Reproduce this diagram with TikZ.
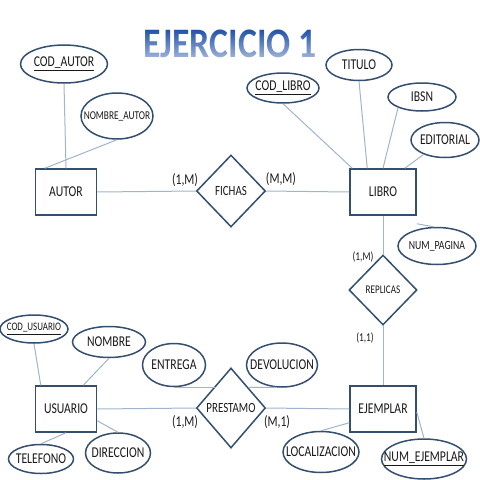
\documentclass[tikz,border=0pt]{standalone}
\usepackage{fontspec}
\setmainfont{Carlito}[FakeStretch=0.78]
\newfontfamily\titlefont{Carlito}[FakeStretch=0.85]
\usetikzlibrary{shapes.geometric,fadings}
\definecolor{navy}{RGB}{52,78,112}
\definecolor{conn}{RGB}{160,180,204}
\definecolor{txt}{RGB}{25,25,25}
\definecolor{titleblue}{RGB}{36,84,170}
\newcommand\zb[1]{\makebox[0pt]{#1}}
\tikzset{
  ent/.style={draw=navy, line width=1.5pt, rectangle, inner sep=0pt, minimum height=46pt, text=txt, font=\fontsize{15}{17}\selectfont},
  attr/.style={draw=navy, line width=1.5pt, ellipse, inner sep=0pt, text=txt, font=\fontsize{15}{17}\selectfont},
  rel/.style={draw=navy, line width=1.5pt, diamond, inner sep=0pt, text=txt, font=\fontsize{14}{16}\selectfont},
  card/.style={inner sep=1pt, text=txt, font=\fontsize{15}{17}\selectfont},
  link/.style={draw=conn, line width=1pt}
}
\begin{document}
\begin{tikzpicture}[x=1pt,y=-1pt]
\useasboundingbox (0,0) rectangle (480,480);
% title
\node[inner sep=0pt, text=titleblue, font=\titlefont\bfseries\fontsize{42}{44}\selectfont] (title) at (230,44) {EJERCICIO 1};
\fill[white, path fading=north, fill opacity=0.6] (140,30) rectangle (322,60);
% entities
\node[ent, minimum width=61pt] (autor) at (66,192) {AUTOR};
\node[ent, minimum width=66pt] (libro) at (383,192) {LIBRO};
\node[ent, minimum width=61pt] (usuario) at (66,409) {USUARIO};
\node[ent, minimum width=66pt] (ejemplar) at (383,409) {EJEMPLAR};
% relationships
\node[rel, minimum width=69pt, minimum height=72pt] (fichas) at (231,191) {\zb{FICHAS}};
\node[rel, minimum width=68pt, minimum height=70pt, font=\fontsize{11.7}{13}\selectfont] (replicas) at (383,290) {\zb{REPLICAS}};
\node[rel, minimum width=69pt, minimum height=80pt, font=\fontsize{14}{16}\selectfont] (prestamo) at (231,408) {\zb{PRESTAMO}};
% attributes
\node[attr, minimum width=87pt, minimum height=38pt] (codautor) at (64,64) {\zb{\underline{COD\_AUTOR}}};
\node[attr, minimum width=72pt, minimum height=46pt, font=\fontsize{12}{14}\selectfont] (nombreautor) at (117,116) {\zb{NOMBRE\_AUTOR}};
\node[attr, minimum width=72pt, minimum height=30pt] (codlibro) at (283,88) {\zb{\underline{COD\_LIBRO}}};
\node[attr, minimum width=66pt, minimum height=31pt] (titulo) at (359,65) {\zb{TITULO}};
\node[attr, minimum width=68pt, minimum height=28pt] (ibsn) at (422,97) {\zb{IBSN}};
\node[attr, minimum width=68pt, minimum height=35pt] (editorial) at (445,140) {\zb{EDITORIAL}};
\node[attr, minimum width=78pt, minimum height=37pt, font=\fontsize{12.5}{14}\selectfont] (numpagina) at (437,246) {\zb{NUM\_PAGINA}};
\node[attr, minimum width=85pt, minimum height=40pt] (numejemplar) at (424,459) {\zb{\underline{NUM\_EJEMPLAR}}};
\node[attr, minimum width=76pt, minimum height=41pt] (localizacion) at (321,452) {\zb{LOCALIZACION}};
\node[attr, minimum width=71pt, minimum height=44pt] (devolucion) at (282,365) {\zb{DEVOLUCION}};
\node[attr, minimum width=63pt, minimum height=43pt] (entrega) at (174,365) {\zb{ENTREGA}};
\node[attr, minimum width=68pt, minimum height=28pt, font=\fontsize{11.5}{13}\selectfont] (codusuario) at (34,329) {\zb{\underline{COD\_USUARIO}}};
\node[attr, minimum width=73pt, minimum height=31pt] (nombre) at (109,342) {\zb{NOMBRE}};
\node[attr, minimum width=65pt, minimum height=29pt] (telefono) at (41,459) {\zb{TELEFONO}};
\node[attr, minimum width=65pt, minimum height=40pt] (direccion) at (118,453) {\zb{DIRECCION}};
% cardinalities
\node[card] (c1) at (185,180) {(1,M)};
\node[card] (c2) at (281,179) {(M,M)};
\node[card, font=\fontsize{12}{14}\selectfont] (c3) at (363,257) {(1,M)};
\node[card, font=\fontsize{12}{14}\selectfont] (c4) at (365,338) {(1,1)};
\node[card] (c5) at (185,422) {(1,M)};
\node[card] (c6) at (277,422) {(M,1)};
% connectors
\draw[link] (codautor.south) -- (autor.north);
\draw[link] (nombreautor.south) -- ([xshift=10pt]autor.north west);
\draw[link] (autor.east) -- (fichas.west);
\draw[link] (fichas.east) -- (libro.west);
\draw[link] (codlibro.south) -- ([xshift=3pt]libro.north west);
\draw[link] (titulo.south) -- ([xshift=18pt]libro.north west);
\draw[link] (ibsn.204) -- (libro.north);
\draw[link] (editorial.214) -- ([xshift=-12pt]libro.north east);
\draw[link] ([yshift=-8pt]libro.south east) -- (numpagina.100);
\draw[link] (libro.south) -- (replicas.north);
\draw[link] (replicas.south) -- (ejemplar.north);
\draw[link] ([yshift=-3pt]ejemplar.east) -- (numejemplar.north);
\draw[link] ([yshift=10pt]ejemplar.south west) -- (localizacion.north);
\draw[link] (prestamo.west) -- (usuario.east);
\draw[link] (prestamo.east) -- (ejemplar.west);
\draw[link] (entrega.south) -- (prestamo.124 |- entrega.south);
\draw[link] (devolucion.255) -- (prestamo.50);
\draw[link] (codusuario.south) -- ([xshift=6pt]usuario.north west);
\draw[link] (nombre.south) -- ([xshift=-14pt]usuario.north east);
\draw[link] (usuario.south) -- (telefono.north);
\draw[link] ([yshift=12pt]usuario.south east) -- (direccion.north);
\end{tikzpicture}
\end{document}
